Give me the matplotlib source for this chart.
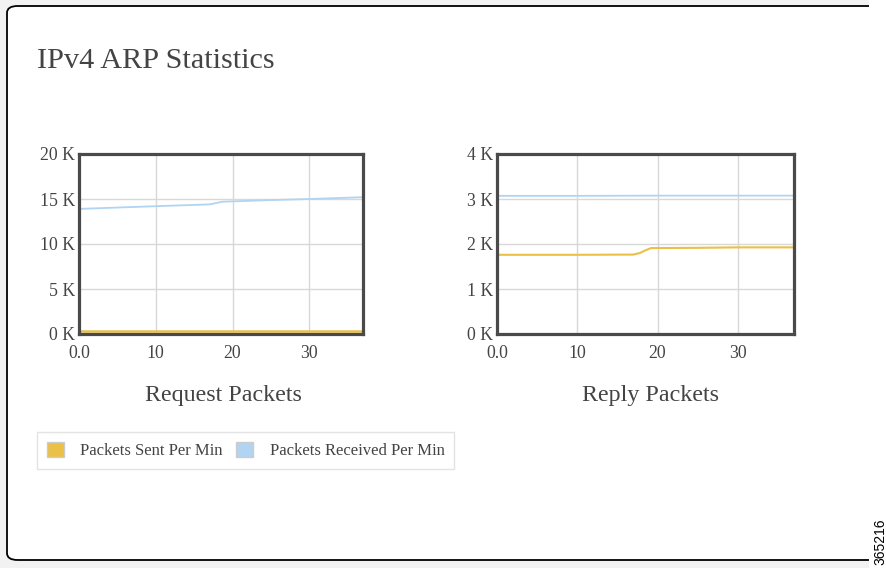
import matplotlib
matplotlib.use("Agg")
import matplotlib.pyplot as plt
from matplotlib.patches import FancyBboxPatch, Rectangle, Patch

# data
req_x = [0, 10, 17, 18.7, 25, 30, 37]
req_received = [13900, 14200, 14400, 14700, 14880, 15000, 15200]
req_sent_x = [0, 10, 20, 30, 37]
req_sent = [280, 280, 280, 280, 280]

rep_x = [0, 10, 20, 30, 37]
rep_received = [3070, 3070, 3075, 3075, 3075]
rep_sent_x = [0, 10, 17, 17.8, 18.5, 19.2, 25, 30, 37]
rep_sent = [1760, 1760, 1765, 1800, 1860, 1910, 1915, 1925, 1925]

req_yticks = [0, 5000, 10000, 15000, 20000]
req_ylabels = ["0 K", "5 K", "10 K", "15 K", "20 K"]
rep_yticks = [0, 1000, 2000, 3000, 4000]
rep_ylabels = ["0 K", "1 K", "2 K", "3 K", "4 K"]
xticks = [0, 10, 20, 30]
xlabels = ["0.0", "10", "20", "30"]

SENT = "#ebc046"
RECV = "#b0d4f1"
TXT = "#444444"
W, H = 886, 568

plt.rcParams["font.family"] = ["Liberation Serif", "DejaVu Serif"]

fig = plt.figure(figsize=(W / 100, H / 100), dpi=100)
fig.patch.set_facecolor("#f2f2f2")

def px(x, y, w, h):
    return [x / W, 1 - (y + h) / H, w / W, h / H]

# panel background with rounded left corners
panel = FancyBboxPatch((7 / W, 1 - 560 / H), 900 / W, 554 / H,
                       boxstyle="round,pad=0,rounding_size=0.012",
                       transform=fig.transFigure, facecolor="white",
                       edgecolor="black", linewidth=1.3, zorder=-3)
fig.patches.append(panel)
fig.patches.append(Rectangle((869 / W, 0), 17 / W, 1, transform=fig.transFigure,
                             facecolor="white", edgecolor="none", zorder=-2))

fig.text(37 / W, 1 - 61 / H, "IPv4 ARP Statistics", fontsize=21.8,
         color=TXT, va="center", ha="left")

def style(ax, yticks, ylabels, ymax):
    ax.set_xlim(0, 37)
    ax.set_ylim(0, ymax)
    ax.set_xticks(xticks)
    ax.set_xticklabels(xlabels)
    ax.set_yticks(yticks)
    ax.set_yticklabels(ylabels)
    ax.tick_params(length=0, labelsize=12.8, labelcolor=TXT)
    ax.tick_params(axis="x", pad=8)
    ax.tick_params(axis="y", pad=3)
    ax.grid(True, color="#d8d8d8", linewidth=1)
    ax.set_axisbelow(True)
    for s in ax.spines.values():
        s.set_color("#4a4a4a")
        s.set_linewidth(2.3)

ax1 = fig.add_axes(px(79, 154, 284, 180))
ax1.plot(req_x, req_received, color=RECV, lw=1.3)
ax1.plot(req_sent_x, req_sent, color=SENT, lw=1.8)
style(ax1, req_yticks, req_ylabels, 20000)
fig.text(223 / W, 1 - 395 / H, "Request Packets", fontsize=17.3, color=TXT,
         ha="center", va="center")

ax2 = fig.add_axes(px(497, 154, 297, 180))
ax2.plot(rep_x, rep_received, color=RECV, lw=1.3)
ax2.plot(rep_sent_x, rep_sent, color=SENT, lw=1.5)
style(ax2, rep_yticks, rep_ylabels, 4000)
fig.text(650 / W, 1 - 395 / H, "Reply Packets", fontsize=17.3, color=TXT,
         ha="center", va="center")

handles = [Patch(facecolor=SENT, edgecolor="#cccccc"),
           Patch(facecolor=RECV, edgecolor="#cccccc")]
leg = fig.legend(handles, ["Packets Sent Per Min", "Packets Received Per Min"],
                 loc="upper left", bbox_to_anchor=(37 / W, 1 - 432 / H), ncol=2,
                 fontsize=12, frameon=True, fancybox=False, borderaxespad=0,
                 handlelength=1.0, handleheight=1.0, handletextpad=1.0,
                 columnspacing=0.8, borderpad=0.6)
leg.get_frame().set_edgecolor("#dddddd")
leg.get_frame().set_linewidth(1)
for t in leg.get_texts():
    t.set_color(TXT)

fig.text(880 / W, 1 - 542 / H, "365216", rotation=90, fontsize=10,
         family="Liberation Sans", ha="center", va="center", color="black")

fig.savefig("out.png", dpi=100, facecolor=fig.get_facecolor())
